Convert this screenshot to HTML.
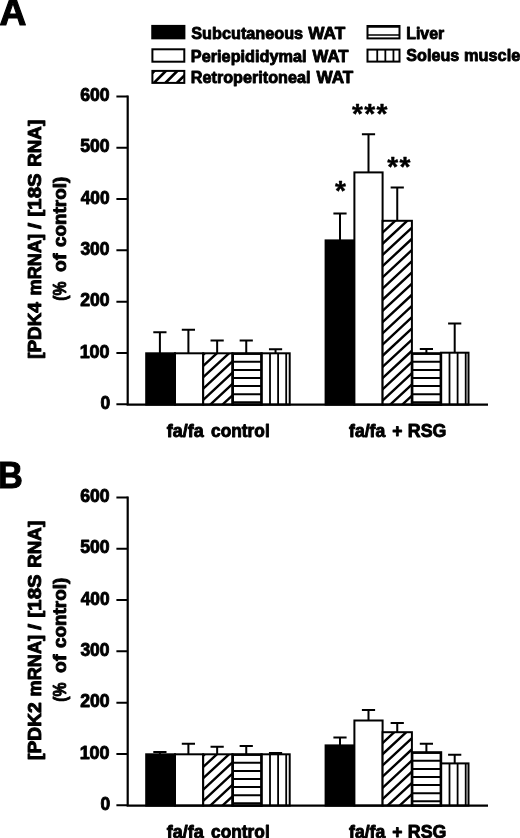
<!DOCTYPE html>
<html><head><meta charset="utf-8"><title>Figure</title>
<style>html,body{margin:0;padding:0;background:#fff}svg{display:block}text{font-family:"Liberation Sans",Arial,Helvetica,sans-serif;font-weight:bold;fill:#000;stroke:#000;stroke-width:0.9px;stroke-linejoin:round}</style></head><body>
<svg width="520" height="838" viewBox="0 0 520 838">
<rect width="520" height="838" fill="#fff"/>
<text x="-0.4" y="24.6" font-size="36" textLength="26.9" lengthAdjust="spacingAndGlyphs" style="stroke-width:1.1px">A</text>
<text x="-2.0" y="488.1" font-size="37" textLength="24.8" lengthAdjust="spacingAndGlyphs" style="stroke-width:1.1px">B</text>
<rect x="152.25" y="25.90" width="32.15" height="12.45" fill="#000" stroke="#000" stroke-width="2.0"/>
<clipPath id="c1"><rect x="152.40" y="49.30" width="31.90" height="12.40"/></clipPath><rect x="152.40" y="49.30" width="31.90" height="12.40" fill="#fff"/><rect x="152.40" y="49.30" width="31.90" height="12.40" fill="none" stroke="#000" stroke-width="2.0"/>
<clipPath id="c2"><rect x="152.40" y="70.90" width="31.90" height="12.00"/></clipPath><rect x="152.40" y="70.90" width="31.90" height="12.00" fill="#fff"/><path d="M150.40 74.90L186.30 39.00M150.40 86.40L186.30 50.50M150.40 97.90L186.30 62.00M150.40 109.40L186.30 73.50" stroke="#000" stroke-width="2.7" fill="none" clip-path="url(#c2)"/><rect x="152.40" y="70.90" width="31.90" height="12.00" fill="none" stroke="#000" stroke-width="2.0"/>
<clipPath id="c3"><rect x="367.50" y="26.00" width="32.00" height="12.40"/></clipPath><rect x="367.50" y="26.00" width="32.00" height="12.40" fill="#fff"/><path d="M367.50 26.90H399.50M367.50 35.00H399.50" stroke="#000" stroke-width="1.6" fill="none" clip-path="url(#c3)"/><rect x="367.50" y="26.00" width="32.00" height="12.40" fill="none" stroke="#000" stroke-width="2.0"/>
<clipPath id="c4"><rect x="367.50" y="49.60" width="32.00" height="12.00"/></clipPath><rect x="367.50" y="49.60" width="32.00" height="12.00" fill="#fff"/><path d="M377.25 49.60V61.60M385.35 49.60V61.60M393.45 49.60V61.60" stroke="#000" stroke-width="1.8" fill="none" clip-path="url(#c4)"/><rect x="367.50" y="49.60" width="32.00" height="12.00" fill="none" stroke="#000" stroke-width="2.0"/>
<text x="191.28" y="38.80" font-size="17.3" textLength="111.89" lengthAdjust="spacingAndGlyphs">Subcutaneous</text>
<text x="308.30" y="38.80" font-size="17.3" textLength="36.92" lengthAdjust="spacingAndGlyphs">WAT</text>
<text x="190.82" y="61.50" font-size="17.3" textLength="115.80" lengthAdjust="spacingAndGlyphs">Periepididymal</text>
<text x="312.60" y="61.50" font-size="17.3" textLength="36.02" lengthAdjust="spacingAndGlyphs">WAT</text>
<text x="190.83" y="83.40" font-size="17.3" textLength="119.62" lengthAdjust="spacingAndGlyphs">Retroperitoneal</text>
<text x="316.60" y="83.40" font-size="17.3" textLength="36.72" lengthAdjust="spacingAndGlyphs">WAT</text>
<text x="406.25" y="38.60" font-size="17.3" textLength="37.94" lengthAdjust="spacingAndGlyphs">Liver</text>
<text x="406.33" y="61.20" font-size="17.3" textLength="52.90" lengthAdjust="spacingAndGlyphs">Soleus</text>
<text x="464.07" y="61.20" font-size="17.3" textLength="56.16" lengthAdjust="spacingAndGlyphs">muscle</text>
<g>
<path d="M159.90 353.30V332.30M153.30 332.30H166.50" stroke="#000" stroke-width="2" fill="none"/>
<path d="M188.40 353.30V329.80M181.80 329.80H195.00" stroke="#000" stroke-width="2" fill="none"/>
<path d="M217.15 353.30V340.60M210.55 340.60H223.75" stroke="#000" stroke-width="2" fill="none"/>
<path d="M246.25 353.30V340.60M239.65 340.60H252.85" stroke="#000" stroke-width="2" fill="none"/>
<path d="M275.55 353.30V349.20M268.95 349.20H282.15" stroke="#000" stroke-width="2" fill="none"/>
<rect x="146.20" y="353.30" width="28.80" height="51.30" fill="#000" stroke="#000" stroke-width="2.0"/>
<clipPath id="c5"><rect x="175.00" y="353.30" width="28.20" height="51.30"/></clipPath><rect x="175.00" y="353.30" width="28.20" height="51.30" fill="#fff"/><rect x="175.00" y="353.30" width="28.20" height="51.30" fill="none" stroke="#000" stroke-width="2.0"/>
<clipPath id="c6"><rect x="203.20" y="353.30" width="29.30" height="51.30"/></clipPath><rect x="203.20" y="353.30" width="29.30" height="51.30" fill="#fff"/><path d="M201.20 356.56L234.50 325.59M201.20 367.86L234.50 336.89M201.20 379.16L234.50 348.19M201.20 390.46L234.50 359.49M201.20 401.76L234.50 370.79M201.20 413.06L234.50 382.09M201.20 424.36L234.50 393.39" stroke="#000" stroke-width="2.4" fill="none" clip-path="url(#c6)"/><rect x="203.20" y="353.30" width="29.30" height="51.30" fill="none" stroke="#000" stroke-width="2.0"/>
<clipPath id="c7"><rect x="261.40" y="353.30" width="28.30" height="51.30"/></clipPath><rect x="261.40" y="353.30" width="28.30" height="51.30" fill="#fff"/><path d="M270.00 353.30V404.60M278.10 353.30V404.60M286.20 353.30V404.60" stroke="#000" stroke-width="1.8" fill="none" clip-path="url(#c7)"/><rect x="261.40" y="353.30" width="28.30" height="51.30" fill="none" stroke="#000" stroke-width="2.0"/>
<clipPath id="c8"><rect x="232.50" y="353.30" width="28.90" height="51.30"/></clipPath><rect x="232.50" y="353.30" width="28.90" height="51.30" fill="#fff"/><path d="M232.50 353.70H261.40M232.50 361.80H261.40M232.50 369.90H261.40M232.50 378.00H261.40M232.50 386.10H261.40M232.50 394.20H261.40M232.50 402.30H261.40" stroke="#000" stroke-width="2.0" fill="none" clip-path="url(#c8)"/><rect x="232.70" y="353.50" width="28.70" height="51.10" fill="none" stroke="#000" stroke-width="2.6"/>
<path d="M340.00 240.40V213.60M333.40 213.60H346.60" stroke="#000" stroke-width="2" fill="none"/>
<path d="M368.50 172.40V134.20M361.90 134.20H375.10" stroke="#000" stroke-width="2" fill="none"/>
<path d="M397.25 220.80V187.40M390.65 187.40H403.85" stroke="#000" stroke-width="2" fill="none"/>
<path d="M426.40 353.30V349.00M419.80 349.00H433.00" stroke="#000" stroke-width="2" fill="none"/>
<path d="M454.70 352.70V323.50M448.10 323.50H461.30" stroke="#000" stroke-width="2" fill="none"/>
<rect x="325.60" y="240.40" width="28.80" height="164.20" fill="#000" stroke="#000" stroke-width="2.0"/>
<clipPath id="c9"><rect x="354.40" y="172.40" width="28.20" height="232.20"/></clipPath><rect x="354.40" y="172.40" width="28.20" height="232.20" fill="#fff"/><rect x="354.40" y="172.40" width="28.20" height="232.20" fill="none" stroke="#000" stroke-width="2.0"/>
<clipPath id="c10"><rect x="382.60" y="220.80" width="29.30" height="183.80"/></clipPath><rect x="382.60" y="220.80" width="29.30" height="183.80" fill="#fff"/><path d="M380.60 223.16L413.90 192.19M380.60 234.36L413.90 203.39M380.60 245.56L413.90 214.59M380.60 256.76L413.90 225.79M380.60 267.96L413.90 236.99M380.60 279.16L413.90 248.19M380.60 290.36L413.90 259.39M380.60 301.56L413.90 270.59M380.60 312.76L413.90 281.79M380.60 323.96L413.90 292.99M380.60 335.16L413.90 304.19M380.60 346.36L413.90 315.39M380.60 357.56L413.90 326.59M380.60 368.76L413.90 337.79M380.60 379.96L413.90 348.99M380.60 391.16L413.90 360.19M380.60 402.36L413.90 371.39M380.60 413.56L413.90 382.59M380.60 424.76L413.90 393.79" stroke="#000" stroke-width="2.4" fill="none" clip-path="url(#c10)"/><rect x="382.60" y="220.80" width="29.30" height="183.80" fill="none" stroke="#000" stroke-width="2.0"/>
<clipPath id="c11"><rect x="440.90" y="352.70" width="27.60" height="51.90"/></clipPath><rect x="440.90" y="352.70" width="27.60" height="51.90" fill="#fff"/><path d="M449.50 352.70V404.60M457.60 352.70V404.60M465.70 352.70V404.60" stroke="#000" stroke-width="1.8" fill="none" clip-path="url(#c11)"/><rect x="440.90" y="352.70" width="27.60" height="51.90" fill="none" stroke="#000" stroke-width="2.0"/>
<clipPath id="c12"><rect x="411.90" y="353.30" width="29.00" height="51.30"/></clipPath><rect x="411.90" y="353.30" width="29.00" height="51.30" fill="#fff"/><path d="M411.90 353.70H440.90M411.90 361.80H440.90M411.90 369.90H440.90M411.90 378.00H440.90M411.90 386.10H440.90M411.90 394.20H440.90M411.90 402.30H440.90" stroke="#000" stroke-width="2.0" fill="none" clip-path="url(#c12)"/><rect x="412.10" y="353.50" width="28.80" height="51.10" fill="none" stroke="#000" stroke-width="2.6"/>
<path d="M127.7 95.50V404.60M126.6 404.60H488" stroke="#000" stroke-width="2.2" fill="none"/>
<path d="M116.4 404.20H127.7M116.4 352.92H127.7M116.4 301.64H127.7M116.4 250.36H127.7M116.4 199.08H127.7M116.4 147.80H127.7M116.4 96.52H127.7" stroke="#000" stroke-width="2" fill="none"/>
<text x="100.57" y="408.80" font-size="18.0" textLength="9.67" lengthAdjust="spacingAndGlyphs">0</text>
<text x="79.65" y="357.52" font-size="18.0" textLength="29.94" lengthAdjust="spacingAndGlyphs">100</text>
<text x="80.16" y="306.24" font-size="18.0" textLength="29.42" lengthAdjust="spacingAndGlyphs">200</text>
<text x="80.41" y="254.96" font-size="18.0" textLength="29.16" lengthAdjust="spacingAndGlyphs">300</text>
<text x="80.66" y="203.68" font-size="18.0" textLength="28.91" lengthAdjust="spacingAndGlyphs">400</text>
<text x="80.16" y="152.40" font-size="18.0" textLength="29.42" lengthAdjust="spacingAndGlyphs">500</text>
<text x="80.16" y="101.12" font-size="18.0" textLength="29.42" lengthAdjust="spacingAndGlyphs">600</text>
<text x="166.85" y="436.90" font-size="17.7" textLength="36.73" lengthAdjust="spacingAndGlyphs">fa/fa</text>
<text x="211.07" y="436.90" font-size="17.7" textLength="58.64" lengthAdjust="spacingAndGlyphs">control</text>
<text x="349.05" y="436.50" font-size="17.7" textLength="36.12" lengthAdjust="spacingAndGlyphs">fa/fa</text>
<text x="392.16" y="436.50" font-size="17.7" textLength="10.17" lengthAdjust="spacingAndGlyphs">+</text>
<text x="407.84" y="436.50" font-size="17.7" textLength="38.56" lengthAdjust="spacingAndGlyphs">RSG</text>
<text transform="translate(41.30 358.87) rotate(-90)" font-size="17.6" textLength="56.72" lengthAdjust="spacingAndGlyphs">[PDK4</text>
<text transform="translate(41.30 295.49) rotate(-90)" font-size="17.6" textLength="61.65" lengthAdjust="spacingAndGlyphs">mRNA]</text>
<text transform="translate(41.30 229.00) rotate(-90)" font-size="17.6" textLength="6.06" lengthAdjust="spacingAndGlyphs">/</text>
<text transform="translate(41.30 216.45) rotate(-90)" font-size="17.6" textLength="43.12" lengthAdjust="spacingAndGlyphs">[18S</text>
<text transform="translate(41.30 166.73) rotate(-90)" font-size="17.6" textLength="46.87" lengthAdjust="spacingAndGlyphs">RNA]</text>
<text transform="translate(66.10 300.80) rotate(-90)" font-size="17.6" textLength="19.16" lengthAdjust="spacingAndGlyphs">(%</text>
<text transform="translate(66.10 271.92) rotate(-90)" font-size="17.6" textLength="18.23" lengthAdjust="spacingAndGlyphs">of</text>
<text transform="translate(66.10 247.10) rotate(-90)" font-size="17.6" textLength="70.36" lengthAdjust="spacingAndGlyphs">control)</text>
</g>
<text x="335.0" y="200.3" font-size="28" style="stroke-width:0.4px">*</text>
<text x="352.0" y="123.2" font-size="28" letter-spacing="1.3" style="stroke-width:0.4px">***</text>
<text x="387.2" y="176.0" font-size="28" letter-spacing="1.3" style="stroke-width:0.4px">**</text>
<g>
<path d="M159.90 754.30V752.00M153.30 752.00H166.50" stroke="#000" stroke-width="2" fill="none"/>
<path d="M188.40 754.30V743.80M181.80 743.80H195.00" stroke="#000" stroke-width="2" fill="none"/>
<path d="M217.15 754.30V746.80M210.55 746.80H223.75" stroke="#000" stroke-width="2" fill="none"/>
<path d="M246.25 754.30V745.90M239.65 745.90H252.85" stroke="#000" stroke-width="2" fill="none"/>
<path d="M275.55 754.30V752.90M268.95 752.90H282.15" stroke="#000" stroke-width="2" fill="none"/>
<rect x="146.20" y="754.30" width="28.80" height="51.30" fill="#000" stroke="#000" stroke-width="2.0"/>
<clipPath id="c13"><rect x="175.00" y="754.30" width="28.20" height="51.30"/></clipPath><rect x="175.00" y="754.30" width="28.20" height="51.30" fill="#fff"/><rect x="175.00" y="754.30" width="28.20" height="51.30" fill="none" stroke="#000" stroke-width="2.0"/>
<clipPath id="c14"><rect x="203.20" y="754.30" width="29.30" height="51.30"/></clipPath><rect x="203.20" y="754.30" width="29.30" height="51.30" fill="#fff"/><path d="M201.20 757.56L234.50 726.59M201.20 768.86L234.50 737.89M201.20 780.16L234.50 749.19M201.20 791.46L234.50 760.49M201.20 802.76L234.50 771.79M201.20 814.06L234.50 783.09M201.20 825.36L234.50 794.39" stroke="#000" stroke-width="2.4" fill="none" clip-path="url(#c14)"/><rect x="203.20" y="754.30" width="29.30" height="51.30" fill="none" stroke="#000" stroke-width="2.0"/>
<clipPath id="c15"><rect x="261.40" y="754.30" width="28.30" height="51.30"/></clipPath><rect x="261.40" y="754.30" width="28.30" height="51.30" fill="#fff"/><path d="M270.00 754.30V805.60M278.10 754.30V805.60M286.20 754.30V805.60" stroke="#000" stroke-width="1.8" fill="none" clip-path="url(#c15)"/><rect x="261.40" y="754.30" width="28.30" height="51.30" fill="none" stroke="#000" stroke-width="2.0"/>
<clipPath id="c16"><rect x="232.50" y="754.30" width="28.90" height="51.30"/></clipPath><rect x="232.50" y="754.30" width="28.90" height="51.30" fill="#fff"/><path d="M232.50 754.70H261.40M232.50 762.80H261.40M232.50 770.90H261.40M232.50 779.00H261.40M232.50 787.10H261.40M232.50 795.20H261.40M232.50 803.30H261.40" stroke="#000" stroke-width="2.0" fill="none" clip-path="url(#c16)"/><rect x="232.70" y="754.50" width="28.70" height="51.10" fill="none" stroke="#000" stroke-width="2.6"/>
<path d="M340.00 745.40V737.40M333.40 737.40H346.60" stroke="#000" stroke-width="2" fill="none"/>
<path d="M368.50 720.50V710.00M361.90 710.00H375.10" stroke="#000" stroke-width="2" fill="none"/>
<path d="M397.25 732.20V722.90M390.65 722.90H403.85" stroke="#000" stroke-width="2" fill="none"/>
<path d="M426.40 752.30V743.70M419.80 743.70H433.00" stroke="#000" stroke-width="2" fill="none"/>
<path d="M454.70 763.40V754.70M448.10 754.70H461.30" stroke="#000" stroke-width="2" fill="none"/>
<rect x="325.60" y="745.40" width="28.80" height="60.20" fill="#000" stroke="#000" stroke-width="2.0"/>
<clipPath id="c17"><rect x="354.40" y="720.50" width="28.20" height="85.10"/></clipPath><rect x="354.40" y="720.50" width="28.20" height="85.10" fill="#fff"/><rect x="354.40" y="720.50" width="28.20" height="85.10" fill="none" stroke="#000" stroke-width="2.0"/>
<clipPath id="c18"><rect x="382.60" y="732.20" width="29.30" height="73.40"/></clipPath><rect x="382.60" y="732.20" width="29.30" height="73.40" fill="#fff"/><path d="M380.60 744.86L413.90 713.89M380.60 756.06L413.90 725.09M380.60 767.26L413.90 736.29M380.60 778.46L413.90 747.49M380.60 789.66L413.90 758.69M380.60 800.86L413.90 769.89M380.60 812.06L413.90 781.09M380.60 823.26L413.90 792.29M380.60 834.46L413.90 803.49" stroke="#000" stroke-width="2.4" fill="none" clip-path="url(#c18)"/><rect x="382.60" y="732.20" width="29.30" height="73.40" fill="none" stroke="#000" stroke-width="2.0"/>
<clipPath id="c19"><rect x="440.90" y="763.40" width="27.60" height="42.20"/></clipPath><rect x="440.90" y="763.40" width="27.60" height="42.20" fill="#fff"/><path d="M449.50 763.40V805.60M457.60 763.40V805.60M465.70 763.40V805.60" stroke="#000" stroke-width="1.8" fill="none" clip-path="url(#c19)"/><rect x="440.90" y="763.40" width="27.60" height="42.20" fill="none" stroke="#000" stroke-width="2.0"/>
<clipPath id="c20"><rect x="411.90" y="752.30" width="29.00" height="53.30"/></clipPath><rect x="411.90" y="752.30" width="29.00" height="53.30" fill="#fff"/><path d="M411.90 752.70H440.90M411.90 760.80H440.90M411.90 768.90H440.90M411.90 777.00H440.90M411.90 785.10H440.90M411.90 793.20H440.90M411.90 801.30H440.90" stroke="#000" stroke-width="2.0" fill="none" clip-path="url(#c20)"/><rect x="412.10" y="752.50" width="28.80" height="53.10" fill="none" stroke="#000" stroke-width="2.6"/>
<path d="M127.7 496.50V805.60M126.6 805.60H488" stroke="#000" stroke-width="2.2" fill="none"/>
<path d="M116.4 805.20H127.7M116.4 753.92H127.7M116.4 702.64H127.7M116.4 651.36H127.7M116.4 600.08H127.7M116.4 548.80H127.7M116.4 497.52H127.7" stroke="#000" stroke-width="2" fill="none"/>
<text x="100.57" y="809.80" font-size="18.0" textLength="9.67" lengthAdjust="spacingAndGlyphs">0</text>
<text x="79.65" y="758.52" font-size="18.0" textLength="29.94" lengthAdjust="spacingAndGlyphs">100</text>
<text x="80.16" y="707.24" font-size="18.0" textLength="29.42" lengthAdjust="spacingAndGlyphs">200</text>
<text x="80.41" y="655.96" font-size="18.0" textLength="29.16" lengthAdjust="spacingAndGlyphs">300</text>
<text x="80.66" y="604.68" font-size="18.0" textLength="28.91" lengthAdjust="spacingAndGlyphs">400</text>
<text x="80.16" y="553.40" font-size="18.0" textLength="29.42" lengthAdjust="spacingAndGlyphs">500</text>
<text x="80.16" y="502.12" font-size="18.0" textLength="29.42" lengthAdjust="spacingAndGlyphs">600</text>
<text x="166.85" y="837.90" font-size="17.7" textLength="36.73" lengthAdjust="spacingAndGlyphs">fa/fa</text>
<text x="211.07" y="837.90" font-size="17.7" textLength="58.64" lengthAdjust="spacingAndGlyphs">control</text>
<text x="349.05" y="837.50" font-size="17.7" textLength="36.12" lengthAdjust="spacingAndGlyphs">fa/fa</text>
<text x="392.16" y="837.50" font-size="17.7" textLength="10.17" lengthAdjust="spacingAndGlyphs">+</text>
<text x="407.84" y="837.50" font-size="17.7" textLength="38.56" lengthAdjust="spacingAndGlyphs">RSG</text>
<text transform="translate(41.30 759.89) rotate(-90)" font-size="17.6" textLength="57.55" lengthAdjust="spacingAndGlyphs">[PDK2</text>
<text transform="translate(41.30 696.49) rotate(-90)" font-size="17.6" textLength="61.65" lengthAdjust="spacingAndGlyphs">mRNA]</text>
<text transform="translate(41.30 630.00) rotate(-90)" font-size="17.6" textLength="6.06" lengthAdjust="spacingAndGlyphs">/</text>
<text transform="translate(41.30 617.45) rotate(-90)" font-size="17.6" textLength="43.12" lengthAdjust="spacingAndGlyphs">[18S</text>
<text transform="translate(41.30 567.73) rotate(-90)" font-size="17.6" textLength="46.87" lengthAdjust="spacingAndGlyphs">RNA]</text>
<text transform="translate(66.10 701.80) rotate(-90)" font-size="17.6" textLength="19.16" lengthAdjust="spacingAndGlyphs">(%</text>
<text transform="translate(66.10 672.92) rotate(-90)" font-size="17.6" textLength="18.23" lengthAdjust="spacingAndGlyphs">of</text>
<text transform="translate(66.10 648.10) rotate(-90)" font-size="17.6" textLength="70.36" lengthAdjust="spacingAndGlyphs">control)</text>
</g>
</svg></body></html>
